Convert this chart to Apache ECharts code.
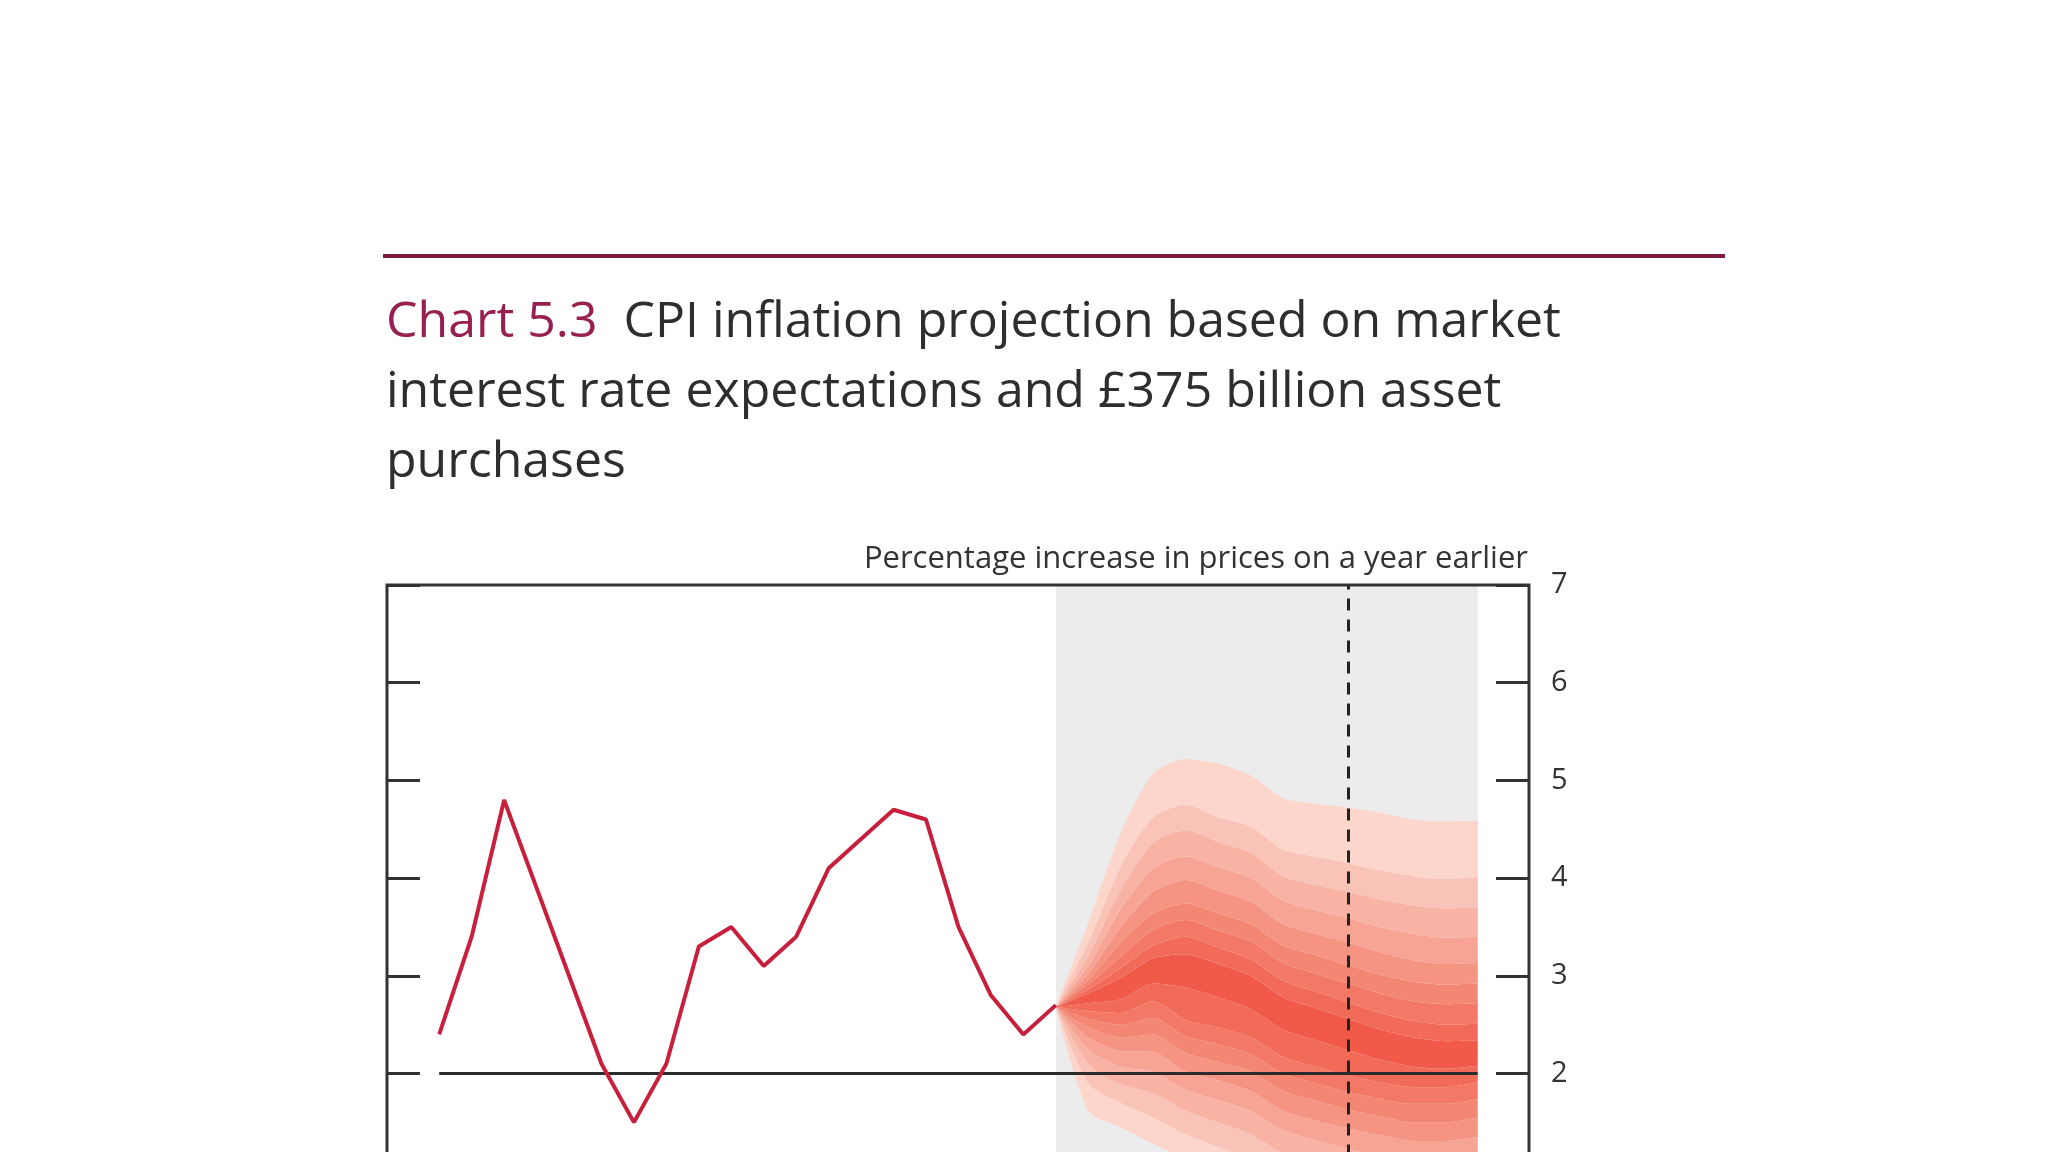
<!DOCTYPE html>
<html>
<head>
<meta charset="utf-8">
<script src="https://cdn.jsdelivr.net/npm/echarts@6/dist/echarts.min.js"></script>
<style>
html,body{margin:0;padding:0;background:#fff;width:2048px;height:1152px;overflow:hidden;}
#chart{position:absolute;left:0;top:0;width:2048px;height:1400px;}
</style>
</head>
<body>
<div id="chart"></div>
<script>
// quarters on the x axis, 2008 Q1 .. 2016 Q1
var quarters = ['2008 Q1','2008 Q2','2008 Q3','2008 Q4','2009 Q1','2009 Q2','2009 Q3','2009 Q4',
    '2010 Q1','2010 Q2','2010 Q3','2010 Q4','2011 Q1','2011 Q2','2011 Q3','2011 Q4',
    '2012 Q1','2012 Q2','2012 Q3','2012 Q4','2013 Q1','2013 Q2','2013 Q3','2013 Q4',
    '2014 Q1','2014 Q2','2014 Q3','2014 Q4','2015 Q1','2015 Q2','2015 Q3','2015 Q4','2016 Q1'];

// CPI outturns
var cpi = [2.4, 3.4, 4.8, 3.9, 3.0, 2.1, 1.5, 2.1, 3.3, 3.5, 3.1, 3.4, 4.1, 4.4, 4.7, 4.6, 3.5, 2.8, 2.4, 2.7];

// projection fan, 2012 Q4 .. 2016 Q1, band edges from outer low to outer high
var low8 = [2.68, 1.62, 1.45, 1.28, 1.12, 0.95, 0.80, 0.55, 0.40, 0.28, 0.15, 0.05, -0.03, -0.10];
var low7 = [2.68, 1.90, 1.70, 1.55, 1.38, 1.25, 1.12, 0.90, 0.78, 0.67, 0.57, 0.50, 0.45, 0.40];
var low6 = [2.68, 2.10, 1.89, 1.80, 1.62, 1.50, 1.38, 1.18, 1.08, 0.98, 0.90, 0.84, 0.79, 0.75];
var low5 = [2.68, 2.25, 2.07, 2.02, 1.83, 1.73, 1.62, 1.42, 1.32, 1.23, 1.15, 1.09, 1.05, 1.01];
var low4 = [2.68, 2.37, 2.23, 2.22, 2.02, 1.93, 1.82, 1.62, 1.52, 1.44, 1.37, 1.31, 1.28, 1.25];
var low3 = [2.68, 2.47, 2.37, 2.40, 2.21, 2.12, 2.02, 1.82, 1.72, 1.63, 1.56, 1.50, 1.47, 1.45];
var low2 = [2.68, 2.56, 2.50, 2.57, 2.38, 2.30, 2.20, 2.00, 1.90, 1.81, 1.74, 1.69, 1.66, 1.64];
var low1 = [2.68, 2.64, 2.62, 2.74, 2.55, 2.47, 2.37, 2.17, 2.07, 1.98, 1.91, 1.86, 1.83, 1.81];
var low0 = [2.68, 2.72, 2.76, 2.92, 2.88, 2.78, 2.66, 2.45, 2.34, 2.24, 2.14, 2.07, 2.02, 1.98];
var high0 = [2.68, 2.82, 2.98, 3.18, 3.22, 3.12, 3.00, 2.78, 2.67, 2.56, 2.45, 2.37, 2.30, 2.24];
var high1 = [2.68, 2.86, 3.08, 3.31, 3.40, 3.29, 3.17, 2.95, 2.84, 2.73, 2.62, 2.54, 2.47, 2.41];
var high2 = [2.68, 2.91, 3.20, 3.47, 3.57, 3.46, 3.35, 3.13, 3.02, 2.92, 2.82, 2.74, 2.68, 2.62];
var high3 = [2.68, 2.96, 3.34, 3.64, 3.74, 3.64, 3.53, 3.31, 3.21, 3.11, 3.01, 2.94, 2.88, 2.82];
var high4 = [2.68, 3.02, 3.50, 3.86, 3.98, 3.87, 3.76, 3.53, 3.43, 3.34, 3.24, 3.16, 3.09, 3.03];
var high5 = [2.68, 3.10, 3.68, 4.10, 4.22, 4.11, 4.00, 3.77, 3.67, 3.59, 3.50, 3.43, 3.36, 3.30];
var high6 = [2.68, 3.20, 3.88, 4.36, 4.49, 4.37, 4.26, 4.02, 3.93, 3.86, 3.78, 3.72, 3.66, 3.60];
var high7 = [2.68, 3.34, 4.12, 4.62, 4.75, 4.62, 4.53, 4.29, 4.22, 4.15, 4.08, 4.02, 3.96, 3.91];
var high8 = [2.68, 3.54, 4.46, 5.07, 5.22, 5.17, 5.05, 4.82, 4.76, 4.72, 4.67, 4.60, 4.55, 4.49];

var yTicks = [-1, 0, 1, 2, 3, 4, 5, 6, 7];
var inflationTarget = 2;
var projectionStart = '2012 Q4';
var projectionEnd = '2016 Q1';
var twoYearsAhead = '2015 Q1';

// shades from centre band outwards
var fanColors = ['#f15a49','#f26a58','#f37866','#f48674','#f69483','#f7a494','#f8b3a5','#fac3b7','#fcd5cb'];

var chart = echarts.init(document.getElementById('chart'));
var font = '"Open Sans", "Noto Sans", sans-serif';
var p0 = quarters.indexOf(projectionStart);
var yMin = yTicks[0], yMax = yTicks[yTicks.length - 1];

var bounds = [low8, low7, low6, low5, low4, low3, low2, low1, low0,
              high0, high1, high2, high3, high4, high5, high6, high7, high8];

// put fan values on the quarter axis, blank before the projection
function onQuarters(arr){
    var out = [];
    for (var j = 0; j < p0; j++) out.push('-');
    return out.concat(arr);
}

var series = [];
// grey projection background, 2% line, two-year marker
series.push({
    type: 'line', data: [], xAxisIndex: 1, yAxisIndex: 2, z: 1,
    markArea: {
        silent: true,
        itemStyle: {color: '#ececec'},
        data: [[{xAxis: projectionStart}, {xAxis: projectionEnd}]]
    }
});
series.push({
    type: 'line', data: [], xAxisIndex: 1, yAxisIndex: 2, z: 5,
    markLine: {
        silent: true, symbol: 'none', label: {show: false},
        lineStyle: {color: '#2b2b2b', width: 3, type: 'solid'},
        data: [{yAxis: inflationTarget}]
    }
});
series.push({
    type: 'line', data: [], xAxisIndex: 1, yAxisIndex: 2, z: 6,
    markLine: {
        silent: true, symbol: 'none', label: {show: false},
        lineStyle: {color: '#222', width: 3, type: [12, 9]},
        data: [{xAxis: twoYearsAhead}]
    }
});
// fan: invisible base then stacked bands
series.push({
    type: 'line', stack: 'fan', smooth: 0.25, symbol: 'none', z: 2, xAxisIndex: 1, yAxisIndex: 2,
    data: onQuarters(low8), lineStyle: {width: 0}
});
for (var i = 1; i < bounds.length; i++) {
    var lo = bounds[i - 1], hi = bounds[i];
    var dist = Math.abs(i - 9); // band 9 is the low0..high0 centre band
    series.push({
        type: 'line', stack: 'fan', smooth: 0.25, symbol: 'none', z: 2, xAxisIndex: 1, yAxisIndex: 2,
        data: onQuarters(hi.map(function(v, k){ return +(v - lo[k]).toFixed(3); })),
        lineStyle: {width: 0},
        areaStyle: {color: fanColors[dist], opacity: 1}
    });
}
// outturn line
series.push({
    type: 'line', symbol: 'none', z: 8, xAxisIndex: 1, yAxisIndex: 2,
    data: cpi,
    lineStyle: {color: '#c8203c', width: 4}
});

var tickStyle = {show: true, inside: true, length: 33, lineStyle: {color: '#333', width: 3}};

option = {
    backgroundColor: '#fff',
    animation: false,
    title: [
        {
            left: 386, top: 288, padding: 0,
            text: '{num|Chart 5.3}  CPI inflation projection based on market\ninterest rate expectations and \u00a3375 billion asset\npurchases',
            textStyle: {
                fontFamily: font, fontSize: 50, fontWeight: 'normal', color: '#2e2e2e', lineHeight: 70,
                rich: {num: {fontFamily: font, fontSize: 50, color: '#97204f', lineHeight: 70}}
            }
        },
        {
            right: 520, top: 544, padding: 0,
            text: 'Percentage increase in prices on a year earlier',
            textStyle: {fontFamily: font, fontSize: 31, fontWeight: 'normal', color: '#333'}
        }
    ],
    graphic: [
        {type: 'rect', left: 383, top: 254, shape: {width: 1342, height: 4}, style: {fill: '#7d1a42'}}
    ],
    grid: [
        // chart box with the ticks
        {left: 387, top: 585, right: 519, height: 781.6, show: true, borderColor: '#333', borderWidth: 3, z: 10},
        // quarter positions, first outturn to end of projection
        {left: 439.2, top: 585, right: 570.3, height: 781.6}
    ],
    xAxis: [
        {type: 'value', gridIndex: 0, min: 0, max: 1, show: false},
        {type: 'category', gridIndex: 1, data: quarters, boundaryGap: false, show: false}
    ],
    yAxis: [
        {type: 'value', gridIndex: 0, position: 'left', min: yMin, max: yMax, interval: 1,
         axisLine: {show: false, onZero: false}, axisTick: tickStyle, axisLabel: {show: false}, splitLine: {show: false}, z: 10},
        {type: 'value', gridIndex: 0, position: 'right', min: yMin, max: yMax, interval: 1,
         axisLine: {show: false, onZero: false}, axisTick: tickStyle, splitLine: {show: false}, z: 10,
         axisLabel: {margin: 22, fontFamily: font, fontSize: 29, color: '#333'}},
        {type: 'value', gridIndex: 1, min: yMin, max: yMax, interval: 1, show: false}
    ],
    series: series
};
chart.setOption(option);
</script>
</body>
</html>
